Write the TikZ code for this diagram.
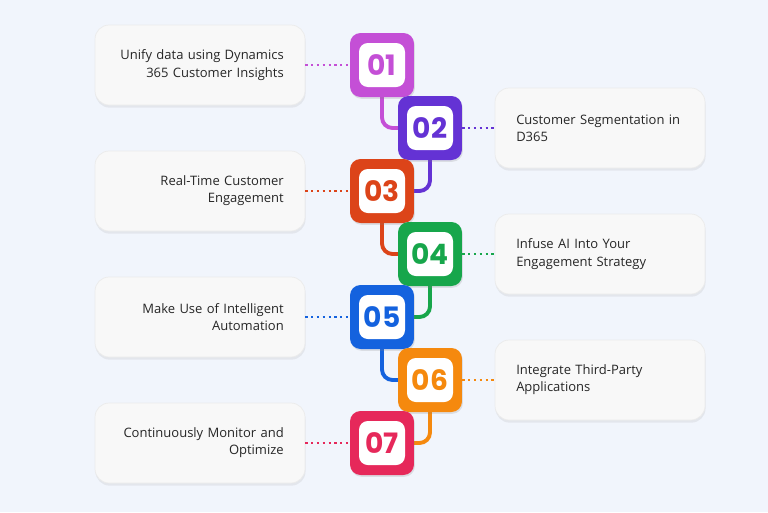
\documentclass[tikz,border=0pt]{standalone}
\usepackage{fontspec}
\setmainfont{Open Sans}
\newfontfamily\numfont{Poppins}
\usetikzlibrary{calc,shadows}
\definecolor{BackClr}{HTML}{F1F5FC}
\definecolor{BoxClr}{HTML}{F8F8F8}
\definecolor{ClrA}{HTML}{C44FD6}
\definecolor{ClrB}{HTML}{6432D4}
\definecolor{ClrC}{HTML}{DC4419}
\definecolor{ClrD}{HTML}{17A64B}
\definecolor{ClrE}{HTML}{1462DE}
\definecolor{ClrF}{HTML}{F5890E}
\definecolor{ClrG}{HTML}{E6285A}
\tikzset{
  infobox/.style={draw=black!8,fill=BoxClr,rounded corners=8pt,minimum width=4.2cm,
    minimum height=1.6cm,text width=3.35cm,drop shadow={opacity=0.12,shadow xshift=0.3pt,shadow yshift=-1.5pt},
    font=\fontsize{7.4}{9.8}\selectfont,text=black!85},
  badge/.style={fill=#1,rounded corners=6pt,minimum size=1.28cm,
    drop shadow={opacity=0.2,shadow xshift=0.5pt,shadow yshift=-1pt}},
  numtext/.style={text=#1,font=\numfont\bfseries\fontsize{16}{16}\selectfont},
  link/.style={#1,line width=2.2pt,rounded corners=6pt},
  dots/.style={#1,dotted,line width=1.3pt}
}
\begin{document}
\begin{tikzpicture}[x=0.02cm,y=-0.02cm]
\fill[BackClr] (0,0) rectangle (768,512);
% step boxes
\node[infobox,align=right] (t1) at (200,65) {Unify data using Dynamics\\365 Customer Insights};
\node[infobox,align=left] (t2) at (600,128) {Customer Segmentation in\\D365};
\node[infobox,align=right] (t3) at (200,191) {Real-Time Customer\\Engagement};
\node[infobox,align=left] (t4) at (600,254) {Infuse AI Into Your\\Engagement Strategy};
\node[infobox,align=right] (t5) at (200,317) {Make Use of Intelligent\\Automation};
\node[infobox,align=left] (t6) at (600,380) {Integrate Third-Party\\Applications};
\node[infobox,align=right] (t7) at (200,443) {Continuously Monitor and\\Optimize};
% connectors between badges
\foreach \j/\c in {2/ClrA,4/ClrC,6/ClrE}
  \draw[link=\c] (382,{65+63*(\j-2)+30}) |- (410,{65+63*(\j-1)});
\foreach \i/\c in {2/ClrB,4/ClrD,6/ClrF}
  \draw[link=\c] (430,{65+63*(\i-1)+30}) |- (405,{65+63*\i});
% badges
\foreach \n/\x/\c in {1/382/ClrA,2/430/ClrB,3/382/ClrC,4/430/ClrD,5/382/ClrE,6/430/ClrF,7/382/ClrG}{
  \node[badge=\c] (b\n) at (\x,{65+63*(\n-1)}) {};
  \fill[white,rounded corners=5pt] ($(b\n)+(-23,-22)$) rectangle ($(b\n)+(23,22)$);
  \node[numtext=\c] (n\n) at (b\n) {0\n};
}
% dotted leaders
\foreach \n/\c in {1/ClrA,3/ClrC,5/ClrE,7/ClrG}
  \draw[dots=\c] (t\n.east) -- (b\n.west);
\foreach \n/\c in {2/ClrB,4/ClrD,6/ClrF}
  \draw[dots=\c] (b\n.east) -- (t\n.west);
\end{tikzpicture}
\end{document}
